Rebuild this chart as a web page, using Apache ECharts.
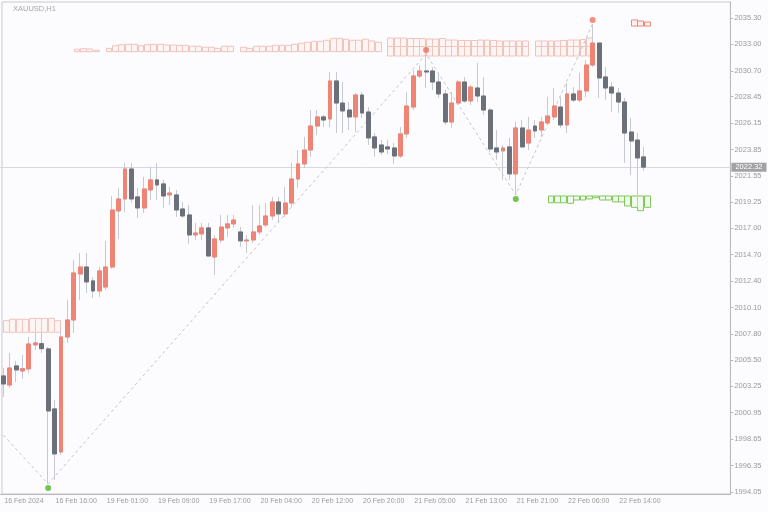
<!DOCTYPE html>
<html><head><meta charset="utf-8">
<script src="https://cdn.jsdelivr.net/npm/echarts@6/dist/echarts.min.js"></script>
<style>html,body{margin:0;padding:0;background:#fcfcfe}#c{width:768px;height:512px}</style>
</head><body><div id="c"></div>
<script>
// ---- candle data (XAUUSD H1) ----
const opens = [2004.15,2003.36,2005.02,2004.58,2004.76,2006.85,2006.96,2006.50,2001.28,1997.53,
2007.54,2009.02,2013.02,2013.63,2012.42,2011.54,2011.89,2013.63,2018.51,2019.55,
2022.16,2019.73,2018.77,2020.33,2021.21,2020.86,2019.90,2019.90,2018.68,2018.16,
2016.42,2016.51,2017.03,2014.50,2015.98,2017.03,2017.38,2016.68,2015.90,2015.98,
2016.68,2017.29,2018.07,2019.29,2018.25,2019.20,2021.29,2022.60,2023.81,2025.90,
2026.69,2026.51,2029.82,2027.90,2027.29,2026.69,2028.60,2027.12,2024.95,2024.25,
2024.08,2023.99,2023.29,2025.21,2027.55,2030.25,2030.69,2030.69,2029.73,2028.69,
2026.25,2027.90,2029.73,2028.08,2029.21,2028.51,2027.29,2023.99,2023.73,2024.08,
2021.73,2025.73,2024.42,2025.90,2025.55,2026.16,2026.69,2027.55,2025.99,2028.69,
2028.16,2028.95,2031.21,2033.12,2030.17,2029.29,2028.77,2027.99,2025.38,2024.68,2023.21];
const closes = [2003.45,2004.84,2004.67,2004.78,2006.93,2007.02,2006.52,2001.10,1997.36,2007.54,
2009.02,2013.11,2013.63,2012.33,2011.54,2013.29,2013.63,2018.59,2019.55,2022.16,
2019.55,2018.77,2020.42,2021.21,2020.77,2019.81,2020.07,2018.59,2018.07,2016.42,
2016.59,2017.03,2014.59,2016.07,2017.11,2017.38,2017.72,2015.90,2015.98,2016.68,
2017.20,2018.07,2019.29,2018.25,2019.20,2021.29,2022.60,2023.81,2025.90,2026.69,
2026.42,2029.82,2027.90,2027.21,2026.69,2028.60,2027.03,2024.86,2023.99,2023.64,
2023.90,2023.29,2025.21,2027.64,2030.25,2030.69,2030.60,2029.73,2028.69,2026.25,
2027.90,2029.73,2028.08,2029.29,2028.51,2027.29,2023.90,2023.64,2023.99,2021.73,
2025.73,2024.08,2025.55,2025.47,2026.25,2026.77,2027.64,2025.99,2028.69,2028.16,
2028.95,2031.21,2033.12,2030.08,2029.21,2028.77,2027.99,2025.29,2024.60,2023.12,2022.32];
const lows = [2002.32,2003.10,2003.63,2003.89,2004.41,2006.41,2006.15,1994.75,1995.10,1997.27,
2007.02,2007.89,2010.76,2011.37,2010.94,2011.02,2011.63,2013.45,2016.07,2018.42,
2019.20,2017.90,2018.33,2019.46,2019.46,2018.77,2019.03,2017.99,2017.90,2015.64,
2015.98,2015.98,2014.50,2012.94,2015.72,2016.24,2017.03,2015.37,2014.85,2015.72,
2016.42,2017.11,2017.72,2017.46,2017.99,2018.86,2020.51,2022.25,2023.21,2025.12,
2025.81,2025.81,2025.29,2025.29,2025.55,2025.38,2026.60,2024.25,2023.21,2023.38,
2023.47,2022.60,2023.12,2024.86,2027.29,2030.08,2029.21,2029.03,2028.34,2025.99,
2025.73,2027.73,2027.90,2027.73,2027.99,2026.86,2023.64,2022.95,2021.21,2021.21,
2019.90,2023.99,2023.81,2024.86,2024.95,2025.99,2026.42,2025.73,2025.29,2027.99,
2027.99,2028.42,2031.03,2028.34,2028.16,2027.12,2027.03,2022.68,2021.64,2018.80,2021.99];
const highs = [2004.84,2006.15,2005.45,2005.97,2007.54,2007.89,2007.89,2006.67,2002.06,2008.15,
2010.76,2014.24,2014.85,2014.85,2012.76,2013.63,2015.90,2019.81,2020.51,2022.68,
2022.68,2020.51,2021.47,2022.34,2022.68,2021.21,2020.60,2020.33,2019.29,2019.03,
2017.46,2017.46,2017.46,2016.42,2018.16,2018.16,2018.16,2017.11,2016.42,2019.03,
2019.03,2019.20,2019.73,2019.73,2020.60,2022.68,2023.81,2024.95,2027.29,2027.29,
2026.86,2030.60,2030.60,2029.73,2027.99,2028.77,2028.86,2027.55,2025.29,2024.68,
2024.68,2024.42,2025.81,2028.86,2030.77,2031.21,2032.17,2031.03,2030.51,2029.03,
2028.86,2029.90,2030.17,2029.47,2031.39,2030.17,2027.47,2025.55,2024.25,2024.86,
2026.25,2026.42,2026.69,2026.42,2026.69,2028.42,2029.21,2028.42,2029.64,2029.29,
2030.51,2031.64,2034.78,2033.12,2031.03,2029.73,2029.21,2028.34,2026.60,2025.29,2024.08];
const lastPrice = 2022.32;
const emptyBarsRight = 13;

// ---- axis ticks ----
const xTickIdx = [0,8,16,24,32,40,48,56,64,72,80,88,96];
const xTickText = ['16 Feb 2024','16 Feb 16:00','19 Feb 01:00','19 Feb 09:00','19 Feb 17:00','20 Feb 04:00',
  '20 Feb 12:00','20 Feb 20:00','21 Feb 05:00','21 Feb 13:00','21 Feb 21:00','22 Feb 06:00','22 Feb 14:00'];
const yTickLabels = ['1994.05','1996.35','1998.65','2000.95','2003.25','2005.50','2007.80','2010.10','2012.40',
  '2014.70','2017.00','2019.25','2021.55','2023.85','2026.15','2028.45','2030.70','2033.00','2035.30'];

// ---- zigzag ----
const zigIdx = [0,7,66,80,92];
const zigVal = [1999.01,1994.75,2032.17,2019.90,2034.78];
const swingHighIdx = [66,92], swingHighVal = [2032.17,2034.78];
const swingLowIdx = [7,80], swingLowVal = [1994.75,2019.90];

// ---- zone boxes (bar index k spans from bar k to bar k+1) ----
const upperZoneIdx = [11,12,13,14,16,17,18,19,20,21,22,23,24,25,26,27,28,29,30,31,32,33,34,35,
  37,38,39,40,41,42,43,44,45,46,47,48,49,50,51,52,53,54,55,56,57,58];
const upperZoneTop = [2032.58,2032.63,2032.60,2032.49,
  2032.66,2032.89,2032.98,2033.01,2033.01,2032.89,2032.98,2033.01,2033.01,2032.95,2032.95,2032.92,2032.92,2032.84,2032.84,2032.75,2032.75,2032.66,2032.84,2032.84,
  2032.75,2032.66,2032.84,2032.84,2032.84,2032.92,2032.92,2032.92,2033.01,2033.10,2033.19,2033.27,2033.27,2033.36,2033.53,2033.53,2033.45,2033.36,2033.36,2033.45,2033.30,2033.19];
const upperZoneBase = 2032.37;

const ceilZoneIdx = [60,61,62,63,64,65,66,67,68,69,70,71,72,73,74,75,76,77,78,79,80,81,83,84,85,86,87,88,89,90,91];
const ceilZoneTop = [2033.56,2033.56,2033.56,2033.52,2033.52,2033.52,2033.47,2033.47,2033.52,2033.38,2033.38,2033.34,2033.34,2033.34,2033.38,2033.38,2033.34,2033.30,2033.30,2033.30,2033.30,2033.30,
  2033.30,2033.30,2033.30,2033.30,2033.34,2033.38,2033.38,2033.43,2033.56];
const ceilZoneMid = 2032.82;
const ceilZoneBase = 2031.99;

const leftZoneIdx = [0,1,2,3,4,5,6,7,8];
const leftZoneTop = [2008.96,2009.08,2009.08,2009.08,2009.16,2009.16,2009.16,2009.16,2008.96];
const leftZoneBase = 2007.95;

const peakZoneIdx = [98,99,100];
const peakZoneTop = [2035.13,2035.04,2034.95];
const peakZoneBase = 2034.60;

const lowZoneIdx = [85,86,87,88,89,90,91,92,93,94,95,96,97,98,99,100];
const lowZoneBottom = [2019.22,2019.22,2019.22,2019.17,2019.46,2019.46,2019.55,2019.66,2019.46,2019.46,2019.29,2019.29,2018.94,2018.82,2018.53,2018.82];
const lowZoneCeil = 2019.81;

// ---- build ----
const nBars = opens.length;
const nCats = nBars + emptyBarsRight;
const categories = Array.from({length: nCats}, (_, i) => String(i));
const BW = 6.406, LEFT = 0.1, TOP = 2, HEIGHT = 492;
const PLOT_W = nCats * BW;
const Y_MAX = 2036.692, Y_MIN = 1993.873;
const FONT = 'Liberation Sans';
const GRAY_TXT = '#9a9a9a', AXIS_C = '#b9b9bd';

const wickData = opens.map((o, i) => [o, closes[i], lows[i], highs[i]]);
const bodyData = opens.map((o, i) => [o, closes[i], Math.min(o, closes[i]), Math.max(o, closes[i])]);

function zoneData(idx, lowerFn, upperFn, hanging) {
  const arr = Array.from({length: nCats}, () => ['-','-','-','-']);
  idx.forEach((k, j) => {
    const lo = lowerFn(j), hi = upperFn(j);
    arr[k] = hanging ? [hi, lo, lo, hi] : [lo, hi, lo, hi];
  });
  return arr;
}
function zoneSeries(name, data, stroke, fill) {
  return {
    name, type: 'candlestick', xAxisIndex: 1, yAxisIndex: 1, barWidth: BW, silent: true, z: 1,
    itemStyle: {color: fill, color0: fill, borderColor: stroke, borderColor0: stroke, borderWidth: 1},
    data
  };
}
const tickSet = new Set(xTickIdx);

const chart = echarts.init(document.getElementById('c'), null, {renderer: 'canvas'});
chart.setOption({
  animation: false,
  backgroundColor: '#fcfcfe',
  title: {text: 'XAUUSD,H1', left: 13, top: 5, padding: 0,
    textStyle: {fontFamily: FONT, fontSize: 7.5, fontWeight: 'normal', color: '#a6a6a6'}},
  grid: [
    {left: LEFT, top: TOP, width: PLOT_W, height: HEIGHT},
    {left: LEFT + BW / 2, top: TOP, width: PLOT_W, height: HEIGHT},
    {left: 2, top: TOP, width: LEFT + PLOT_W - 2, height: HEIGHT, show: true,
      borderColor: '#c9c9cd', borderWidth: 1, backgroundColor: 'rgba(0,0,0,0)'}
  ],
  xAxis: [
    {type: 'category', gridIndex: 0, data: categories, boundaryGap: true,
      axisLine: {lineStyle: {color: AXIS_C, width: 1}},
      axisTick: {alignWithLabel: true, length: 4, interval: (i) => tickSet.has(i), lineStyle: {color: AXIS_C}},
      axisLabel: {interval: (i) => tickSet.has(i), align: 'left', margin: 4, padding: [0, 0, 0, 1],
        fontFamily: FONT, fontSize: 7, color: GRAY_TXT,
        formatter: (v) => { const j = xTickIdx.indexOf(Number(v)); return j >= 0 ? xTickText[j] : ''; }},
      splitLine: {show: false}},
    {type: 'category', gridIndex: 1, data: categories, boundaryGap: true, show: false},
    {type: 'value', gridIndex: 2, show: false}
  ],
  yAxis: [
    {type: 'value', gridIndex: 0, position: 'right', min: Y_MIN, max: Y_MAX,
      axisLine: {show: true, lineStyle: {color: AXIS_C, width: 1}},
      axisTick: {show: true, length: 3, customValues: yTickLabels.map(Number), lineStyle: {color: AXIS_C}},
      axisLabel: {customValues: yTickLabels.map(Number), margin: 4, fontFamily: FONT, fontSize: 7.5, color: GRAY_TXT,
        formatter: (v) => Number(v).toFixed(2)},
      splitLine: {show: false}},
    {type: 'value', gridIndex: 1, min: Y_MIN, max: Y_MAX, show: false},
    {type: 'value', gridIndex: 2, show: false}
  ],
  series: [
    zoneSeries('upper', zoneData(upperZoneIdx, () => upperZoneBase, (j) => upperZoneTop[j], false), '#f1c3bd', '#fdf5f4'),
    zoneSeries('ceilLow', zoneData(ceilZoneIdx, () => ceilZoneBase, () => ceilZoneMid, false), '#f1c3bd', '#fdf5f4'),
    zoneSeries('ceilHigh', zoneData(ceilZoneIdx, () => ceilZoneMid, (j) => ceilZoneTop[j], false), '#f1c3bd', '#fdf5f4'),
    zoneSeries('left', zoneData(leftZoneIdx, () => leftZoneBase, (j) => leftZoneTop[j], false), '#f1c3bd', '#fdf5f4'),
    zoneSeries('peak', zoneData(peakZoneIdx, () => peakZoneBase, (j) => peakZoneTop[j], false), '#ee8778', '#fdf0ee'),
    zoneSeries('low', zoneData(lowZoneIdx, (j) => lowZoneBottom[j], () => lowZoneCeil, true), '#7fc85a', '#f1faec'),
    {name: 'zigzag', type: 'line', xAxisIndex: 0, yAxisIndex: 0, silent: true, z: 2,
      data: zigIdx.map((k, j) => [k, zigVal[j]]), symbol: 'none',
      lineStyle: {color: '#c3c5cc', width: 1, type: [3, 3]}},
    {name: 'wicks', type: 'candlestick', xAxisIndex: 0, yAxisIndex: 0, barWidth: 4.4, silent: true, z: 3,
      itemStyle: {color: 'rgba(0,0,0,0)', color0: 'rgba(0,0,0,0)', borderColor: '#c6c9d1', borderColor0: '#c6c9d1', borderWidth: 1},
      data: wickData},
    {name: 'bodies', type: 'candlestick', xAxisIndex: 0, yAxisIndex: 0, barWidth: 4.4, silent: true, z: 4,
      itemStyle: {color: '#ef8374', color0: '#6c7079', borderColor: '#ef8374', borderColor0: '#6c7079', borderWidth: 1},
      data: bodyData,
      markLine: {silent: true, symbol: 'none', z: 1,
        lineStyle: {color: '#d7d9df', type: 'solid', width: 1},
        label: {show: true, position: 'end', distance: 1, formatter: () => lastPrice.toFixed(2),
          backgroundColor: '#a2a2a4', color: '#ffffff', fontFamily: FONT, fontSize: 7.5, padding: [1, 4, 0, 4], lineHeight: 8},
        data: [{yAxis: lastPrice}]}},
    {name: 'swingHigh', type: 'scatter', xAxisIndex: 0, yAxisIndex: 0, silent: true, z: 5,
      symbolSize: 6, symbolOffset: [0, -4], itemStyle: {color: '#f0705f'},
      data: swingHighIdx.map((k, j) => [k, swingHighVal[j]])},
    {name: 'swingLow', type: 'scatter', xAxisIndex: 0, yAxisIndex: 0, silent: true, z: 5,
      symbolSize: 6, symbolOffset: [0, 4], itemStyle: {color: '#4fb52a'},
      data: swingLowIdx.map((k, j) => [k, swingLowVal[j]])}
  ]
});
</script></body></html>
